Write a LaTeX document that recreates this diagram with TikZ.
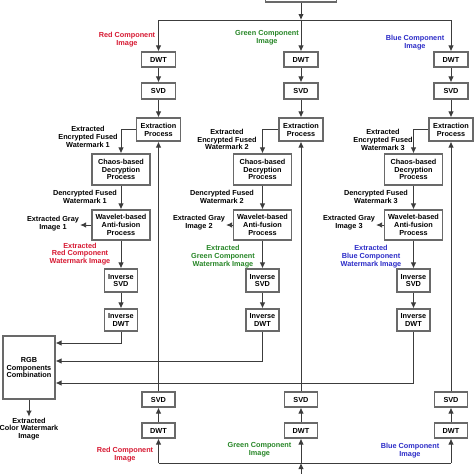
\documentclass[tikz,border=0pt]{standalone}
\usepackage{fontspec}
\setmainfont{Liberation Sans}
\usetikzlibrary{arrows.meta,calc}
\definecolor{cred}{RGB}{215,25,50}
\definecolor{cgreen}{RGB}{40,135,40}
\definecolor{cblue}{RGB}{45,45,200}
\definecolor{lgray}{RGB}{60,60,60}
\definecolor{bgray}{RGB}{105,105,105}
\begin{document}
\begin{tikzpicture}[x=1pt,y=-1pt,
 lab/.style={font=\fontsize{7.3}{7.8}\selectfont\bfseries, align=center, inner sep=1pt},
 blk/.style={lab, draw=bgray, line width=1.2pt, fill=white, inner sep=0pt},
 bx/.style 2 args={blk, minimum width=#1pt, minimum height=#2pt},
 arr/.style={draw=lgray, line width=0.9pt, -{Latex[length=6pt,width=5.5pt]}},
 ln/.style={draw=lgray, line width=0.9pt}]
\useasboundingbox (0,0) rectangle (474,474);
\clip (0,0) rectangle (474,474);
\fill[white] (0,0) rectangle (474,474);

% top box
\node[bx={71}{20}] (top) at (301,-8) {};

% ---------- red column ----------
\node[bx={34}{15}] (dwtR) at (158.5,59.5) {DWT};
\node[bx={34}{16}] (svdR) at (158.5,91) {SVD};
\node[bx={44}{23}] (exR) at (158.5,129.5) {Extraction\\Process};
\node[bx={58}{31}] (chR) at (121,169.5) {Chaos-based\\Decryption\\Process};
\node[bx={58}{30}] (wvR) at (121,225) {Wavelet-based\\Anti-fusion\\Process};
\node[bx={33}{23}] (isR) at (121,280.5) {Inverse\\SVD};
\node[bx={33}{22}] (idR) at (121,320) {Inverse\\DWT};
\node[bx={33}{15}] (bsR) at (158.5,399.5) {SVD};
\node[bx={33}{15}] (bdR) at (158.5,430.5) {DWT};

% ---------- green column ----------
\node[bx={34}{15}] (dwtG) at (301,59.5) {DWT};
\node[bx={34}{16}] (svdG) at (301,91) {SVD};
\node[bx={44}{23}] (exG) at (301,129.5) {Extraction\\Process};
\node[bx={58}{31}] (chG) at (262.5,169.5) {Chaos-based\\Decryption\\Process};
\node[bx={58}{30}] (wvG) at (262.5,225) {Wavelet-based\\Anti-fusion\\Process};
\node[bx={33}{23}] (isG) at (262.5,280.5) {Inverse\\SVD};
\node[bx={33}{22}] (idG) at (262.5,320) {Inverse\\DWT};
\node[bx={33}{15}] (bsG) at (301,399.5) {SVD};
\node[bx={33}{15}] (bdG) at (301,430.5) {DWT};

% ---------- blue column ----------
\node[bx={34}{15}] (dwtB) at (451,59.5) {DWT};
\node[bx={34}{16}] (svdB) at (451,91) {SVD};
\node[bx={44}{23}] (exB) at (451,129.5) {Extraction\\Process};
\node[bx={58}{31}] (chB) at (413.5,169.5) {Chaos-based\\Decryption\\Process};
\node[bx={58}{30}] (wvB) at (413.5,225) {Wavelet-based\\Anti-fusion\\Process};
\node[bx={33}{23}] (isB) at (413.5,280.5) {Inverse\\SVD};
\node[bx={33}{22}] (idB) at (413.5,320) {Inverse\\DWT};
\node[bx={33}{15}] (bsB) at (451,399.5) {SVD};
\node[bx={33}{15}] (bdB) at (451,430.5) {DWT};

% RGB combination
\node[bx={52}{63}] (rgb) at (29,367.5) {RGB\\Components\\Combination};

% ---------- labels ----------
\node[lab,text=cred] (lRt) at (127,39.5) {Red Component\\Image};
\node[lab,text=cgreen] (lGt) at (267,38) {Green Component\\Image};
\node[lab,text=cblue] (lBt) at (415,42.5) {Blue Component\\Image};

\node[lab] (eR) at (88,137) {Extracted\\Encrypted Fused\\Watermark 1};
\node[lab] (eG) at (227,139.5) {Extracted\\Encrypted Fused\\Watermark 2};
\node[lab] (eB) at (383,140) {Extracted\\Encrypted Fused\\Watermark 3};

\node[lab] (dR) at (85,197) {Dencrypted Fused\\Watermark 1};
\node[lab] (dG) at (222,197) {Dencrypted Fused\\Watermark 2};
\node[lab] (dB) at (376,197) {Dencrypted Fused\\Watermark 3};

\node[lab] (gR) at (53,224) {Extracted Gray\\Image 1};
\node[lab] (gG) at (199,223) {Extracted Gray\\Image 2};
\node[lab] (gB) at (349,223) {Extracted Gray\\Image 3};

\node[lab,text=cred] (wR) at (80,254) {Extracted\\Red Component\\Watermark Image};
\node[lab,text=cgreen] (wG) at (223,256.5) {Extracted\\Green Component\\Watermark Image};
\node[lab,text=cblue] (wB) at (371,256.5) {Extracted\\Blue Component\\Watermark Image};

\node[lab] (out) at (29,429) {Extracted\\Color Watermark\\Image};

\node[lab,text=cred] (lRb) at (125,454.5) {Red Component\\Image};
\node[lab,text=cgreen] (lGb) at (259.5,450) {Green Component\\Image};
\node[lab,text=cblue] (lBb) at (410,450.5) {Blue Component\\Image};

% ---------- connectors: top ----------
\coordinate (tR) at (158.5,20);
\coordinate (tG) at (301,20);
\coordinate (tB) at (451,20);
\draw[ln] (tR) -- (tB);
\draw[arr] (top.south) -- (tG);
\draw[arr] (tR) -- (dwtR.north);
\draw[arr] (tG) -- (dwtG.north);
\draw[arr] (tB) -- (dwtB.north);

% ---------- bottom ----------
\coordinate (bR) at (158.5,463);
\coordinate (bG) at (301,463);
\coordinate (bB) at (451,463);
\coordinate (bIn) at (301,480);
\draw[ln] (bR) -- (bB);
\draw[arr] (bIn) -- (bG);
\draw[arr] (bR) -- (bdR.south);
\draw[arr] (bG) -- (bdG.south);
\draw[arr] (bB) -- (bdB.south);

% ---------- per column ----------
\foreach \c in {R,G,B}{
  \draw[arr] (dwt\c) -- (svd\c);
  \draw[arr] (svd\c) -- (ex\c);
  \draw[arr] (ex\c.west) -| (ch\c.north);
  \draw[arr] (ch\c) -- (wv\c);
  \draw[arr] (wv\c.west) -- (wv\c.west -| g\c.east);
  \draw[arr] (wv\c) -- (is\c);
  \draw[arr] (is\c) -- (id\c);
  \draw[arr] (bd\c) -- (bs\c);
  \draw[arr] (bs\c) -- (ex\c);
}

% ---------- into RGB ----------
\draw[arr] (idR.south) |- ([yshift=24.5pt]rgb.east);
\draw[arr] (idG.south) |- ([yshift=6.5pt]rgb.east);
\draw[arr] (idB.south) |- ([yshift=-15.5pt]rgb.east);
\draw[arr] (rgb.south -| out.north) -- (out.north);
\end{tikzpicture}
\end{document}
